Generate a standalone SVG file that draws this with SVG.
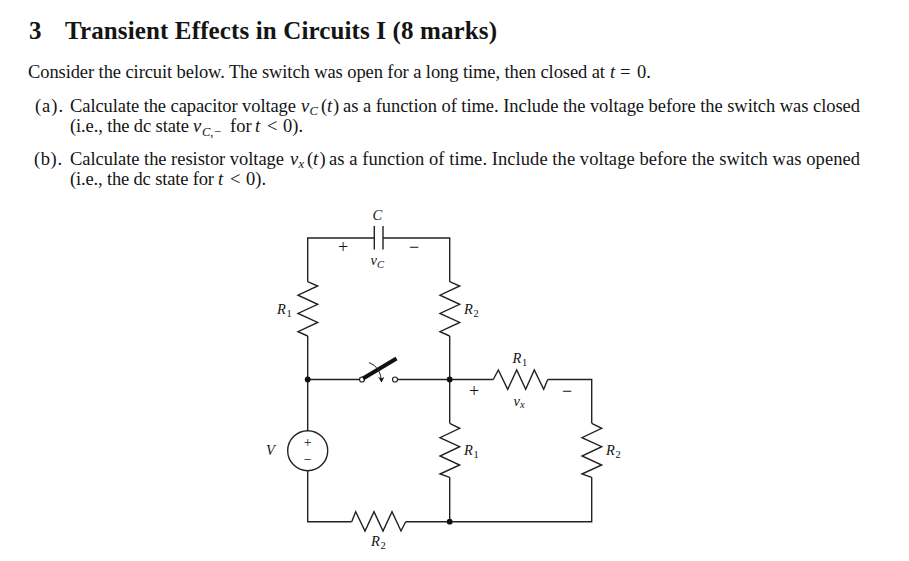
<svg xmlns="http://www.w3.org/2000/svg" width="909" height="561" viewBox="0 0 909 561">
<style>
text{font-family:"Liberation Serif","Times New Roman",serif;fill:#141414}
.b{font-size:18.5px}
.t{font-size:25px;font-weight:bold}
.i{font-style:italic}
.l{font-size:14.5px;font-style:italic}
.s{font-size:10.5px;font-style:italic}
.m{font-size:12.5px;font-style:italic}
.u{font-size:10.5px}
.p{font-size:18px}
.q{font-size:14px}
.w{fill:none;stroke:#222;stroke-width:1.4;stroke-linejoin:miter}
.d{fill:#111}
.o{fill:#fff;stroke:#222;stroke-width:1.2}
</style>
<defs>
<marker id="ah" markerWidth="7" markerHeight="7" refX="5" refY="3" orient="auto" markerUnits="userSpaceOnUse"><path d="M0,0 L5.5,3 L0,6 L1.5,3 Z" fill="#111"/></marker>
</defs>
<rect width="909" height="561" fill="#fff"/>
<g id="heading">
<text class="t" x="29" y="39">3</text>
<text class="t" x="65" y="39" textLength="432" lengthAdjust="spacing">Transient Effects in Circuits I (8 marks)</text>
</g>
<g id="prose">
<text class="b" x="28" y="78" textLength="577">Consider the circuit below. The switch was open for a long time, then closed at</text>
<text class="b i" x="610" y="78">t</text><text class="b" x="620" y="78">=</text><text class="b" x="637" y="78">0.</text>
<text class="b" x="35" y="112" textLength="28">(a).</text>
<text class="b" x="70" y="112" textLength="226">Calculate the capacitor voltage</text>
<text class="b i" x="301" y="112">v</text><text class="m" x="309.500" y="115">C</text>
<text class="b" x="321" y="112">(</text><text class="b i" x="327" y="112">t</text><text class="b" x="333" y="112">)</text>
<text class="b" x="343" y="112" textLength="517">as a function of time. Include the voltage before the switch was closed</text>
<text class="b" x="70" y="132" textLength="119">(i.e., the dc state</text>
<text class="b i" x="193" y="132">v</text><text class="m" x="202" y="136">C,−</text>
<text class="b" x="230" y="132">for</text>
<text class="b i" x="255" y="132">t</text><text class="b" x="267" y="132">&lt;</text><text class="b" x="283" y="132" textLength="20">0).</text>
<text class="b" x="34" y="165" textLength="28">(b).</text>
<text class="b" x="70" y="165" textLength="214">Calculate the resistor voltage</text>
<text class="b i" x="290" y="165">v</text><text class="m" x="298.500" y="168">x</text>
<text class="b" x="307" y="165">(</text><text class="b i" x="313" y="165">t</text><text class="b" x="319.500" y="165">)</text>
<text class="b" x="329" y="165" textLength="531">as a function of time. Include the voltage before the switch was opened</text>
<text class="b" x="70" y="185" textLength="144">(i.e., the dc state for</text>
<text class="b i" x="218" y="185">t</text><text class="b" x="230" y="185">&lt;</text><text class="b" x="246" y="185" textLength="20">0).</text>
</g>
<g id="connectors">
<path class="w" d="M374.300,238H307.700V281.700M307.700,336V430.500M307.700,471V521.700H351.700M405.700,521.700H591.700V477.300M591.700,423.300V379.500H547.700M493.300,379.500H397.500M359.500,379.500H307.700M383,238H449.700V281.700M449.700,336V423.300M449.700,477.300V521.700"/>
</g>
<g id="R1-top">
<path class="w" d="M307.700,281.700L317.700,286L298,295.200L317.700,304.300L298,313.400L317.700,322.400L298,331.700L307.700,336"/>
<text class="l" x="277" y="314">R</text><text class="u" x="286.500" y="316.500">1</text>
</g>
<g id="R2-top">
<path class="w" d="M449.700,281.700L459.700,286L440,295.200L459.700,304.300L440,313.400L459.700,322.400L440,331.700L449.700,336"/>
<text class="l" x="464" y="314">R</text><text class="u" x="473.500" y="316.500">2</text>
</g>
<g id="C">
<path class="w" d="M374.300,226V249.500M383,226V249.500"/>
<text class="l" x="372.500" y="220">C</text>
<text class="p" x="338" y="252.700">+</text><text class="p" x="409" y="252.700">−</text>
<text class="l" x="370.500" y="265">v</text><text class="s" x="377" y="267.500">C</text>
</g>
<g id="switch">
<circle class="o" cx="362" cy="379.500" r="2.500"/><circle class="o" cx="395" cy="379.500" r="2.500"/>
<path d="M363,378.500L396.500,358.500" fill="none" stroke="#111" stroke-width="4"/>
<path d="M369,362.500Q381,367 381.500,382" fill="none" stroke="#222" stroke-width="1" marker-end="url(#ah)"/>
</g>
<g id="R1-h">
<path class="w" d="M493.300,379.500L498.300,370L507.700,389.300L516.700,370L525.700,389.300L534.300,370L543.700,389.300L547.700,379.500"/>
<text class="l" x="512.500" y="363">R</text><text class="u" x="522" y="365.500">1</text>
<text class="p" x="469" y="396.700">+</text><text class="p" x="562" y="396.700">−</text>
<text class="l" x="513.500" y="406">v</text><text class="s" x="520" y="408">x</text>
</g>
<g id="R1-mid">
<path class="w" d="M449.700,423.300L459.700,428.300L440,437.700L459.700,446.700L440,456L459.700,465L440,474L449.700,477.300"/>
<text class="l" x="464" y="455">R</text><text class="u" x="473.500" y="457.500">1</text>
</g>
<g id="R2-right">
<path class="w" d="M591.700,423.300L601.700,428.300L582,437.700L601.700,446.700L582,456L601.700,465L582,474L591.700,477.300"/>
<text class="l" x="606" y="455">R</text><text class="u" x="615.500" y="457.500">2</text>
</g>
<g id="V">
<circle cx="307.700" cy="450.700" r="20" fill="#fff" stroke="#222" stroke-width="1.400"/>
<text class="q" x="303.700" y="447">+</text><text class="q" x="303.700" y="463.800">−</text>
<text class="l" x="266" y="455">V</text>
</g>
<g id="R2-bottom">
<path class="w" d="M351.700,521.700L355.700,511.700L365,531L374,511.700L383,531L392,511.700L401,531L405.700,521.700"/>
<text class="l" x="371" y="546">R</text><text class="u" x="380.500" y="548.500">2</text>
</g>
<g id="junctions">
<circle class="d" cx="307.700" cy="379.500" r="2.900"/><circle class="d" cx="449.700" cy="379.500" r="2.900"/><circle class="d" cx="449.700" cy="521.700" r="2.900"/>
</g>
</svg>
